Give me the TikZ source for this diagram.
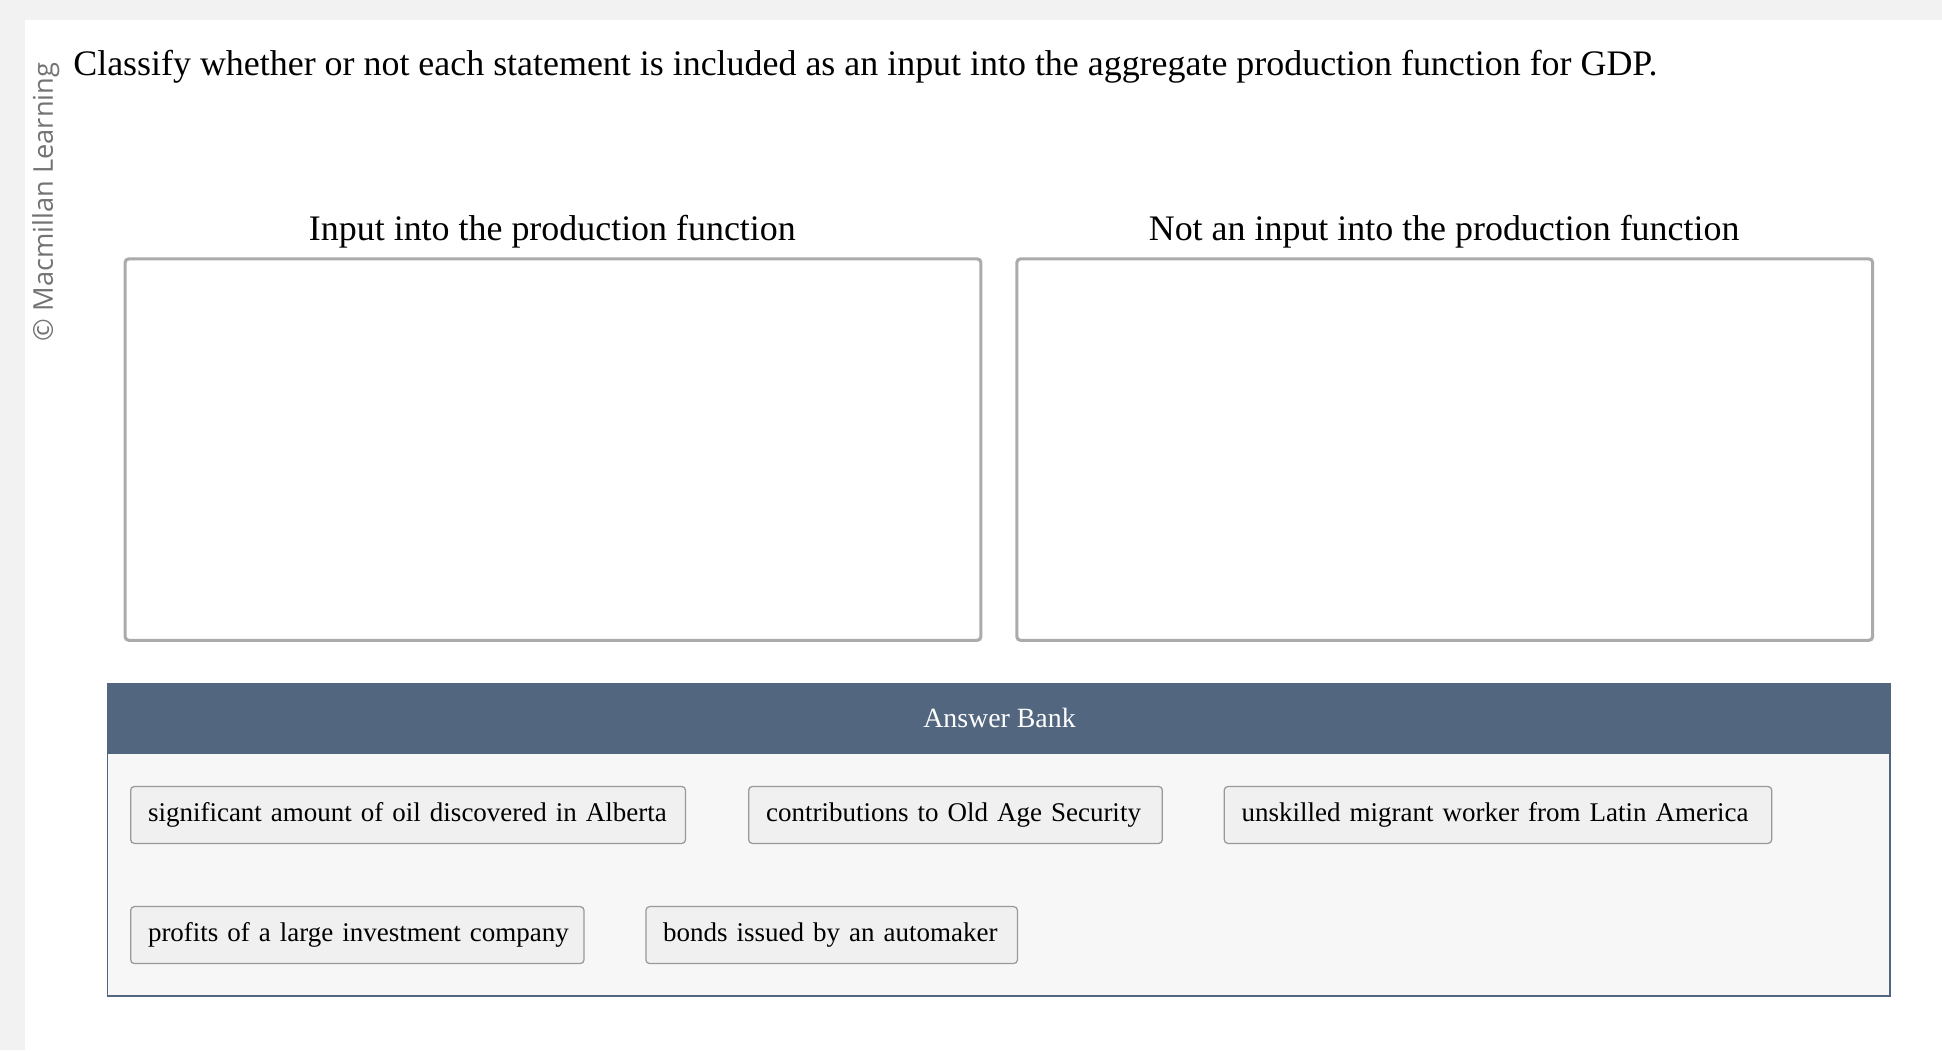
\documentclass[tikz,border=0pt]{standalone}
\usepackage{fontspec}
\setmainfont{Liberation Serif}
\newfontfamily\osans{Open Sans}
\definecolor{bankblue}{RGB}{82,102,127}
\begin{document}
\begin{tikzpicture}[x=1pt,y=-1pt,
  drop/.style={draw=black!33,line width=2.5pt,rounded corners=3pt,fill=white},
  chip/.style={draw=black!40,line width=1pt,rounded corners=3pt,fill=black!6,anchor=west,minimum height=46pt,inner xsep=14pt,align=left,font=\fontsize{21.8}{25}\selectfont},
  head/.style={font=\fontsize{29}{32}\selectfont}]
\path[use as bounding box,fill=black!5] (0,0) rectangle (1568,848);
\fill[white] (20,16) rectangle (1568,848);
\node[rotate=90,text=black!55,font=\osans\fontsize{22}{24}\selectfont] (ml) at (37,163) {© Macmillan Learning};
\node[anchor=base west,inner sep=0,font=\fontsize{29}{32}\selectfont] (title) at (59,61) {Classify whether or not each statement is included as an input into the aggregate production function for GDP.};
\node[head,anchor=base] (h1) at (446,194) {Input into the production function};
\node[head,anchor=base] (h2) at (1166,194) {Not an input into the production function};
\draw[drop] (101,209) rectangle (792,517);
\draw[drop] (821,209) rectangle (1512,517);
\draw[fill=black!3,draw=bankblue,line width=1.2pt] (87,552) rectangle (1526,804);
\fill[bankblue] (87,552) rectangle (1526,609);
\node[text=white,font=\fontsize{22.5}{25}\selectfont] (ab) at (807,580) {Answer Bank};
\node[chip,text width=420pt] (c1) at (105,658) {\mbox{significant amount of oil discovered in Alberta}};
\node[chip,text width=306pt] (c2) at (604,658) {\mbox{contributions to Old Age Security}};
\node[chip,text width=414pt] (c3) at (988,658) {\mbox{unskilled migrant worker from Latin America}};
\node[chip,text width=338pt] (c4) at (105,755) {\mbox{profits of a large investment company}};
\node[chip,text width=272pt] (c5) at (521,755) {\mbox{bonds issued by an automaker}};
\end{tikzpicture}
\end{document}
